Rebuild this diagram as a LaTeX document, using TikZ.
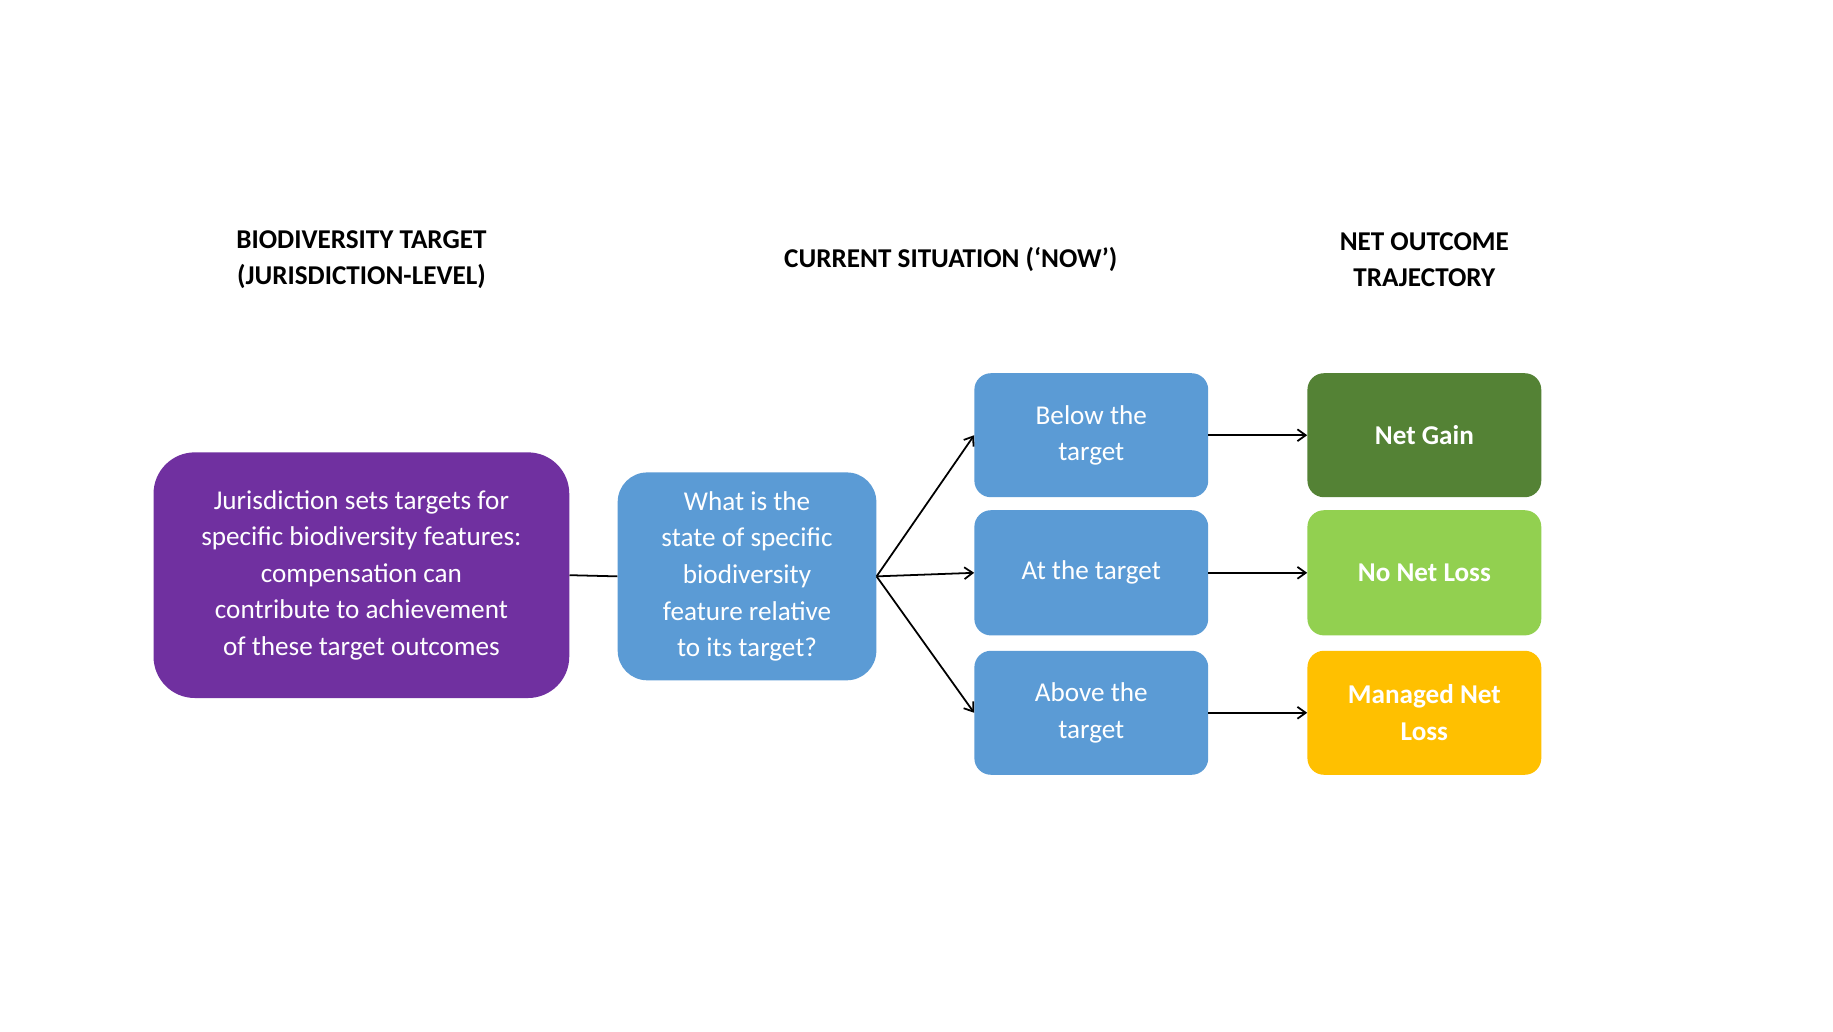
\documentclass[tikz,border=0pt]{standalone}
\usepackage{fontspec}
\setmainfont{Carlito}
\usetikzlibrary{arrows.meta}
\definecolor{purp}{HTML}{7030A0}
\definecolor{blu}{HTML}{5B9BD5}
\definecolor{dg}{HTML}{548235}
\definecolor{lg}{HTML}{92D050}
\definecolor{yel}{HTML}{FFC000}
\begin{document}
\begin{tikzpicture}[x=1pt,y=-1pt,
  box/.style={draw=none,text=white,align=center,font=\fontsize{23}{31}\selectfont,inner sep=0pt},
  hd/.style={align=center,font=\fontsize{23}{31}\selectfont\bfseries},
  arr/.style={-{Straight Barb[length=7pt,width=10pt]},line width=1.5pt},
  ln/.style={line width=1.5pt}]
\useasboundingbox[fill=white] (0,0) rectangle (1552,873);
\node[box,fill=purp,rounded corners=35pt,minimum width=352pt,minimum height=208pt] (j) at (306,487) {Jurisdiction sets targets for\\specific biodiversity features:\\compensation can\\contribute to achievement\\of these target outcomes};
\node[box,fill=blu,rounded corners=25pt,minimum width=219pt,minimum height=176pt] (q) at (632.5,488) {What is the\\state of specific\\biodiversity\\feature relative\\to its target?};
\node[box,fill=blu,rounded corners=14pt,minimum width=198pt,minimum height=105pt] (b) at (924,368.5) {Below the\\target};
\node[box,fill=blu,rounded corners=14pt,minimum width=198pt,minimum height=106pt] (a) at (924,485) {At the target};
\node[box,fill=blu,rounded corners=14pt,minimum width=198pt,minimum height=105pt] (ab) at (924,603.5) {Above the\\target};
\node[box,fill=dg,rounded corners=14pt,minimum width=198pt,minimum height=105pt,font=\fontsize{23}{31}\selectfont\bfseries] (g) at (1206,368.5) {Net Gain};
\node[box,fill=lg,rounded corners=14pt,minimum width=198pt,minimum height=106pt,font=\fontsize{23}{31}\selectfont\bfseries] (n) at (1206,485) {No Net Loss};
\node[box,fill=yel,rounded corners=14pt,minimum width=198pt,minimum height=105pt,font=\fontsize{23}{31}\selectfont\bfseries] (m) at (1206,603.5) {Managed Net\\Loss};
\node[hd] (h1) at (306,220) {BIODIVERSITY TARGET\\(JURISDICTION-LEVEL)};
\node[hd] (h2) at (805,220) {CURRENT SITUATION (‘NOW’)};
\node[hd] (h3) at (1206,220) {NET OUTCOME\\TRAJECTORY};
\draw[ln] (j.east) -- (q.west);
\draw[arr] (q.east) -- (b.west);
\draw[arr] (q.east) -- (a.west);
\draw[arr] (q.east) -- (ab.west);
\draw[arr] (b.east) -- (g.west);
\draw[arr] (a.east) -- (n.west);
\draw[arr] (ab.east) -- (m.west);
\end{tikzpicture}
\end{document}
